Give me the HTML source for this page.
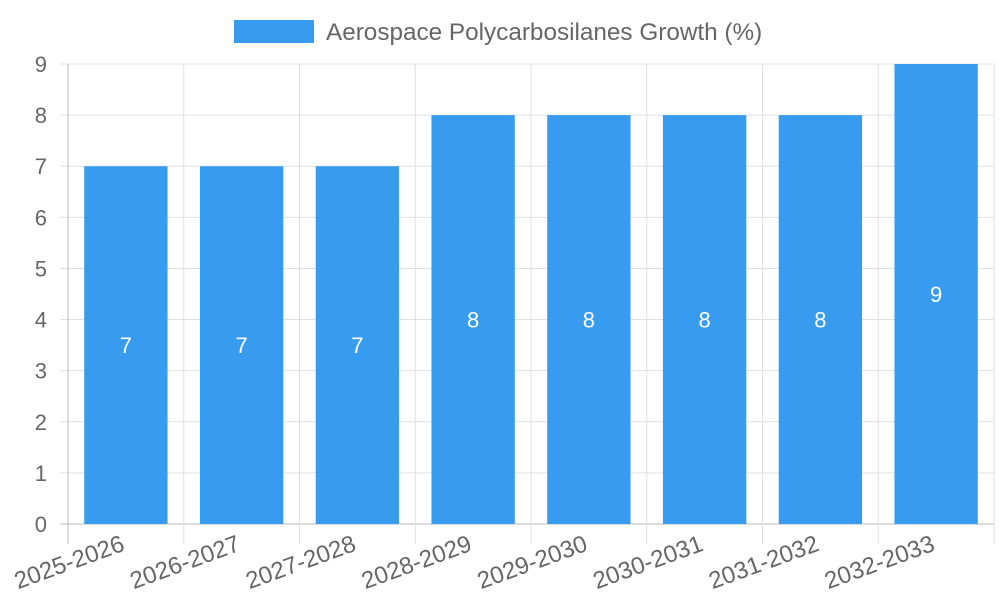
<!DOCTYPE html>
<html><head><meta charset="utf-8"><style>
body{margin:0;background:#fff;}
svg{display:block;font-family:"Liberation Sans",sans-serif;}
</style></head><body>
<svg id="chart" width="1000" height="600">
<g>
<rect x="234" y="20" width="80" height="23" fill="#379cf0"></rect>
<text x="326" y="40" font-size="24.3" fill="#666">Aerospace Polycarbosilanes Growth (%)</text>
</g>
<g id="grid"></g><g id="bars"></g><g id="labels"></g>
</svg>
<script>
const categories=["2025-2026","2026-2027","2027-2028","2028-2029","2029-2030","2030-2031","2031-2032","2032-2033"];
const values=[7,7,7,8,8,8,8,9];
const yTicks=[0,1,2,3,4,5,6,7,8,9];
const ns="http://www.w3.org/2000/svg";
const L=68,R=994,T=64,B=524,yMax=9;
const band=(R-L)/categories.length;
const xS=i=>L+i*band;
const yS=v=>B-(v/yMax)*(B-T);
function mk(tag,attrs,parent,txt){const e=document.createElementNS(ns,tag);for(const k in attrs)e.setAttribute(k,attrs[k]);if(txt!==undefined)e.textContent=txt;parent.appendChild(e);return e;}
const grid=document.getElementById('grid'),bars=document.getElementById('bars'),labels=document.getElementById('labels');
yTicks.forEach(t=>{
 const y=yS(t);
 const ln=mk('line',{x1:L-8,x2:R,y1:y,y2:y,stroke:t===0?'#bbb':'#e0e0e0','stroke-width':1},grid);
 
 
 const tx=mk('text',{x:L-21,y:y+8,'font-size':22,fill:'#666','text-anchor':'end'},labels,t);
 
 
});
for(let i=0;i<=categories.length;i++){
 const x=xS(i);
 const ln=mk('line',{x1:x,x2:x,y1:T,y2:B+20,stroke:i===0?'#bbb':'#e0e0e0','stroke-width':1},grid);
 
 
}
categories.forEach((c,i)=>{
 const bw=band*0.72,x=xS(i)+(band-bw)/2,y=yS(values[i]);
 const r=mk('rect',{x:x,y:y,width:bw,height:B-y,fill:'#379cf0'},bars);
 
 
 const v=mk('text',{x:x+bw/2,y:(y+B)/2+8,'font-size':22,fill:'#fff','text-anchor':'middle'},labels,values[i]);
 
 
 const cx=xS(i)+band/2;
 const t=mk('text',{x:cx,y:550,'font-size':24,fill:'#666','text-anchor':'end',transform:`rotate(-20 ${cx} 550)`},labels,c);
 
 
});
</script>
</body></html>
